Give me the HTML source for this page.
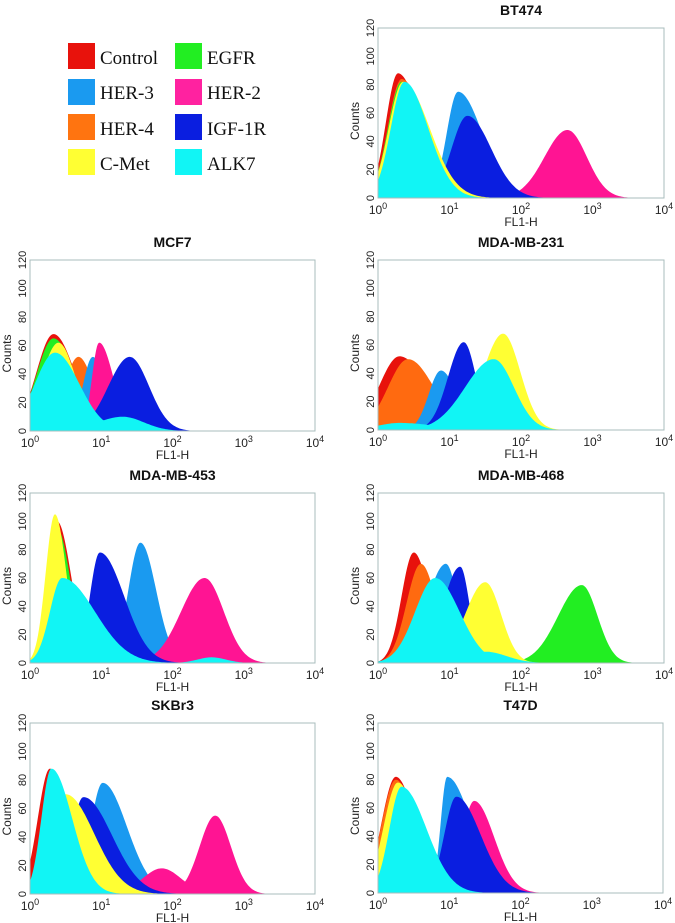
<!DOCTYPE html>
<html><head><meta charset="utf-8">
<style>
html,body{margin:0;padding:0;background:#fff;}
svg{display:block;}
.t{font-family:"Liberation Sans",sans-serif;}
.lg{font-family:"Liberation Serif",serif;font-size:19px;fill:#111;}
</style></head>
<body>
<svg id="fig" width="675" height="923" viewBox="0 0 675 923">
 <g>
  <g><rect x="68" y="43" width="27" height="26" fill="#e8120c"/><text class="lg" x="100" y="64">Control</text></g>
  <g><rect x="68" y="79" width="27" height="26" fill="#1a9af0"/><text class="lg" x="100" y="99">HER-3</text></g>
  <g><rect x="68" y="114" width="27" height="26" fill="#ff7410"/><text class="lg" x="100" y="135">HER-4</text></g>
  <g><rect x="68" y="149" width="27" height="26" fill="#ffff33"/><text class="lg" x="100" y="170">C-Met</text></g>
  <g><rect x="175" y="43" width="27" height="26" fill="#22ee22"/><text class="lg" x="207" y="64">EGFR</text></g>
  <g><rect x="175" y="79" width="27" height="26" fill="#ff22a0"/><text class="lg" x="207" y="99">HER-2</text></g>
  <g><rect x="175" y="114" width="27" height="26" fill="#0a1ee0"/><text class="lg" x="207" y="135">IGF-1R</text></g>
  <g><rect x="175" y="149" width="27" height="26" fill="#11f5f5"/><text class="lg" x="207" y="170">ALK7</text></g>
 </g>
</svg>
<script>
// Data: each histogram component = [peak log10(FL1-H), peak count, left width, right width]
const seriesNames = ["Control","HER-4","EGFR","HER-3","HER-2","IGF-1R","C-Met","ALK7"];
const seriesColors = ["#e8120c","#ff6a10","#22ee22","#1a9af0","#ff1493","#0a1ee0","#ffff33","#11f5f5"];
const yTicks = [0,20,40,60,80,100,120];
const xTickExps = [0,1,2,3,4];
const panelTitles = ["BT474","MCF7","MDA-MB-231","MDA-MB-453","MDA-MB-468","SKBr3","T47D"];
const bt474 = {
 "Control":[[0.28,88,0.17,0.32]], "HER-4":[[0.33,84,0.19,0.34]], "EGFR":[[0.33,82,0.19,0.34]],
 "HER-3":[[1.12,75,0.16,0.34]], "HER-2":[[2.65,48,0.32,0.27]], "IGF-1R":[[1.25,58,0.22,0.33]],
 "C-Met":[[0.35,82,0.2,0.37]], "ALK7":[[0.37,82,0.19,0.33]]};
const mcf7 = {
 "Control":[[0.33,68,0.24,0.3]], "HER-4":[[0.68,52,0.2,0.22]], "EGFR":[[0.33,65,0.24,0.3]],
 "HER-3":[[0.88,52,0.14,0.2]], "HER-2":[[0.97,62,0.1,0.2]], "IGF-1R":[[1.4,52,0.3,0.27]],
 "C-Met":[[0.4,62,0.24,0.24]], "ALK7":[[0.35,55,0.28,0.34],[1.3,10,0.35,0.3]]};
const mdamb231 = {
 "Control":[[0.3,52,0.28,0.4]], "HER-4":[[0.42,50,0.28,0.36]], "EGFR":[[1.7,30,0.27,0.25]],
 "HER-3":[[0.88,42,0.17,0.22]], "HER-2":[], "IGF-1R":[[1.2,62,0.22,0.17]],
 "C-Met":[[1.75,68,0.28,0.24]], "ALK7":[[1.62,50,0.4,0.28],[0.3,5,0.3,0.5]]};
const mdamb453 = {
 "Control":[[0.38,100,0.13,0.2]], "HER-4":[], "EGFR":[[0.38,95,0.13,0.19]],
 "HER-3":[[1.55,85,0.17,0.22]], "HER-2":[[2.45,60,0.33,0.27]], "IGF-1R":[[0.98,78,0.14,0.34]],
 "C-Met":[[0.35,105,0.13,0.16]], "ALK7":[[0.45,60,0.17,0.46],[2.55,4,0.2,0.2]]};
const mdamb468 = {
 "Control":[[0.5,78,0.17,0.22]], "HER-4":[[0.6,70,0.2,0.22]], "EGFR":[[2.85,55,0.33,0.22]],
 "HER-3":[[0.95,70,0.27,0.17]], "HER-2":[], "IGF-1R":[[1.15,68,0.24,0.13]],
 "C-Met":[[1.5,57,0.28,0.22]], "ALK7":[[0.8,60,0.28,0.34],[1.5,8,0.3,0.3]]};
const skbr3 = {
 "Control":[[0.28,88,0.17,0.23]], "HER-4":[], "EGFR":[[1.25,18,0.3,0.22]],
 "HER-3":[[1.02,78,0.17,0.34]], "HER-2":[[1.85,18,0.27,0.27],[2.6,55,0.22,0.22]], "IGF-1R":[[0.75,68,0.17,0.4]],
 "C-Met":[[0.5,70,0.17,0.4]], "ALK7":[[0.3,88,0.14,0.29]]};
const t47d = {
 "Control":[[0.25,82,0.2,0.28]], "HER-4":[[0.25,80,0.2,0.28],[0.65,38,0.22,0.17]], "EGFR":[[0.28,76,0.2,0.28]],
 "HER-3":[[0.97,82,0.09,0.34]], "HER-2":[[1.35,65,0.17,0.28]], "IGF-1R":[[1.1,68,0.17,0.34]],
 "C-Met":[[0.28,78,0.2,0.28]], "ALK7":[[0.33,75,0.17,0.35]]};
const panelData = [bt474,mcf7,mdamb231,mdamb453,mdamb468,skbr3,t47d];
// layout
const boxes = [
 {x0:378,x1:664,top:28,bot:198},
 {x0:30,x1:315,top:260,bot:431},{x0:378,x1:664,top:260,bot:430},
 {x0:30,x1:315,top:493,bot:663},{x0:378,x1:664,top:493,bot:663},
 {x0:30,x1:315,top:723,bot:894},{x0:378,x1:663,top:723,bot:893}];
const NS="http://www.w3.org/2000/svg";
const svg=document.getElementById('fig');
function mk(tag,attrs,parent){const e=document.createElementNS(NS,tag);for(const k in attrs)e.setAttribute(k,attrs[k]);parent.appendChild(e);return e;}
function density(comps,lx){let v=0;for(const c of comps){const s=lx<c[0]?c[2]:c[3];const z=(lx-c[0])/s;v=Math.max(v,c[1]*Math.exp(-0.5*z*z));}return v;}
panelData.forEach((pd,pi)=>{
 const b=boxes[pi];
 const xs=l=>b.x0+(b.x1-b.x0)*l/4;
 const ys=v=>b.bot-(b.bot-b.top)*v/120;
 const g=mk('g',{},svg);
 
 
 const tt=mk('text',{x:(b.x0+b.x1)/2,y:b.top-13,'text-anchor':'middle','class':'t','font-size':'14','font-weight':'bold',fill:'#111'},g);
 tt.textContent=panelTitles[pi];
 
 
 seriesNames.forEach((nm,si)=>{
  const comps=pd[nm]; if(!comps||!comps.length) return;
  let d='M'+xs(0)+','+ys(0);
  const n=Math.round(b.x1-b.x0);
  for(let i=0;i<=n;i++){const lx=4*i/n;d+=' L'+xs(lx).toFixed(1)+','+ys(density(comps,lx)).toFixed(1);}
  d+=' L'+xs(4)+','+ys(0)+'Z';
  const p=mk('path',{d:d,fill:seriesColors[si],stroke:'none'},g);
  
  
 });
 const fr=mk('rect',{x:b.x0,y:b.top,width:b.x1-b.x0,height:b.bot-b.top,fill:'none',stroke:'#a9bcbc','stroke-width':'1'},g);
 
 
 yTicks.forEach(v=>{
  const y=ys(v);
  const t=mk('text',{x:0,y:0,transform:'translate('+(b.x0-4)+','+y+') rotate(-90)','text-anchor':'middle','class':'t','font-size':'11',fill:'#222'},g);
  t.textContent=v;
  
  
 });
 const yl=mk('text',{transform:'translate('+(b.x0-19)+','+((b.top+b.bot)/2+8)+') rotate(-90)','text-anchor':'middle','class':'t','font-size':'12',fill:'#222'},g);
 yl.textContent='Counts';
 
 
 xTickExps.forEach(e=>{
  const x=xs(e);
  const t=mk('text',{x:x,y:b.bot+16,'text-anchor':'middle','class':'t','font-size':'12',fill:'#222'},g);
  t.innerHTML='10<tspan dy="-5" font-size="9">'+e+'</tspan>';
  
  
 });
 const xl=mk('text',{x:(b.x0+b.x1)/2,y:b.bot+28,'text-anchor':'middle','class':'t','font-size':'12',fill:'#222'},g);
 xl.textContent='FL1-H';
 
 
});
</script>
</body></html>
